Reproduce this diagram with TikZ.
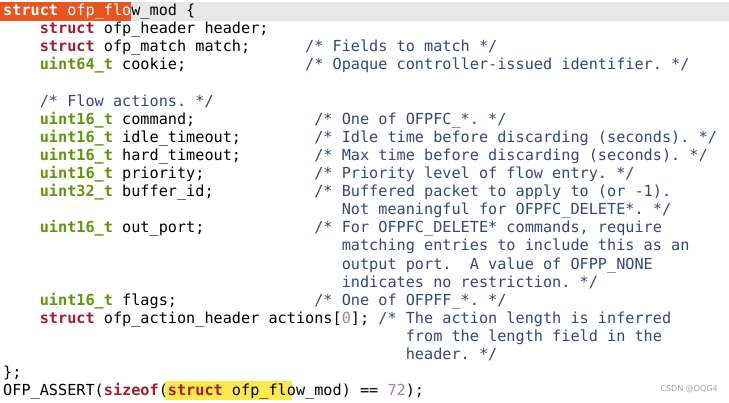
\documentclass[tikz,border=0pt]{standalone}
\usepackage{fontspec}
\setmonofont{DejaVu Sans Mono}
\setsansfont{DejaVu Sans}
\definecolor{kw}{RGB}{160,30,45}
\definecolor{ty}{RGB}{95,150,10}
\definecolor{cm}{RGB}{50,70,130}
\definecolor{nm}{RGB}{180,120,160}
\definecolor{hlo}{RGB}{233,84,32}
\definecolor{hly}{RGB}{252,233,79}
\definecolor{curl}{RGB}{232,232,232}
\newcommand\cl[5]{\node[code,text=#4] (#1) at ({(3+#2*9.15)*1pt},{-(#3*18.1-2.4)*1pt}) {#5};}
\begin{document}
\begin{tikzpicture}[code/.style={anchor=base west,inner sep=0pt,font=\ttfamily\fontsize{15.2}{18}\selectfont}]
\useasboundingbox (0,0) rectangle (729pt,-403pt);
\fill[white] (0,0) rectangle (729pt,-403pt);
\fill[curl] (0,-2pt) rectangle (729pt,-21pt);
\fill[hlo] (0,-2pt) rectangle (131pt,-21pt);
\fill[hly] (165pt,-381pt) rectangle (292pt,-400pt);
\cl{a1}{0}{1}{white}{\bfseries struct}
\cl{a2}{7}{1}{white}{ofp\_flo}
\cl{a3}{14}{1}{black}{w\_mod \{}
\cl{b1}{4}{2}{kw}{\bfseries struct}
\cl{b2}{11}{2}{black}{ofp\_header header;}
\cl{c1}{4}{3}{kw}{\bfseries struct}
\cl{c2}{11}{3}{black}{ofp\_match match;}
\cl{c3}{33}{3}{cm}{/* Fields to match */}
\cl{d1}{4}{4}{ty}{\bfseries uint64\_t}
\cl{d2}{13}{4}{black}{cookie;}
\cl{d3}{33}{4}{cm}{/* Opaque controller-issued identifier. */}
\cl{f1}{4}{6}{cm}{/* Flow actions. */}
\cl{g1}{4}{7}{ty}{\bfseries uint16\_t}
\cl{g2}{13}{7}{black}{command;}
\cl{g3}{34}{7}{cm}{/* One of OFPFC\_*. */}
\cl{h1}{4}{8}{ty}{\bfseries uint16\_t}
\cl{h2}{13}{8}{black}{idle\_timeout;}
\cl{h3}{34}{8}{cm}{/* Idle time before discarding (seconds). */}
\cl{i1}{4}{9}{ty}{\bfseries uint16\_t}
\cl{i2}{13}{9}{black}{hard\_timeout;}
\cl{i3}{34}{9}{cm}{/* Max time before discarding (seconds). */}
\cl{j1}{4}{10}{ty}{\bfseries uint16\_t}
\cl{j2}{13}{10}{black}{priority;}
\cl{j3}{34}{10}{cm}{/* Priority level of flow entry. */}
\cl{k1}{4}{11}{ty}{\bfseries uint32\_t}
\cl{k2}{13}{11}{black}{buffer\_id;}
\cl{k3}{34}{11}{cm}{/* Buffered packet to apply to (or -1).}
\cl{l3}{37}{12}{cm}{Not meaningful for OFPFC\_DELETE*. */}
\cl{m1}{4}{13}{ty}{\bfseries uint16\_t}
\cl{m2}{13}{13}{black}{out\_port;}
\cl{m3}{34}{13}{cm}{/* For OFPFC\_DELETE* commands, require}
\cl{n3}{37}{14}{cm}{matching entries to include this as an}
\cl{o3}{37}{15}{cm}{output port.\ \ A value of OFPP\_NONE}
\cl{p3}{37}{16}{cm}{indicates no restriction. */}
\cl{q1}{4}{17}{ty}{\bfseries uint16\_t}
\cl{q2}{13}{17}{black}{flags;}
\cl{q3}{34}{17}{cm}{/* One of OFPFF\_*. */}
\cl{r1}{4}{18}{kw}{\bfseries struct}
\cl{r2}{11}{18}{black}{ofp\_action\_header actions[}
\cl{r3}{37}{18}{nm}{0}
\cl{r4}{38}{18}{black}{];}
\cl{r5}{41}{18}{cm}{/* The action length is inferred}
\cl{s3}{44}{19}{cm}{from the length field in the}
\cl{t3}{44}{20}{cm}{header. */}
\cl{u1}{0}{21}{black}{\};}
\cl{v1}{0}{22}{black}{OFP\_ASSERT(}
\cl{v2}{11}{22}{kw}{\bfseries sizeof}
\cl{v3}{17}{22}{black}{(}
\cl{v4}{18}{22}{kw}{\bfseries struct}
\cl{v5}{25}{22}{black}{ofp\_flow\_mod) ==}
\cl{v6}{42}{22}{nm}{72}
\cl{v7}{44}{22}{black}{);}
\node[anchor=base east,inner sep=0pt,text=gray!70,font=\sffamily\fontsize{8}{9}\selectfont] (wm) at (718pt,-392pt) {CSDN @OQG4};
\end{tikzpicture}
\end{document}
